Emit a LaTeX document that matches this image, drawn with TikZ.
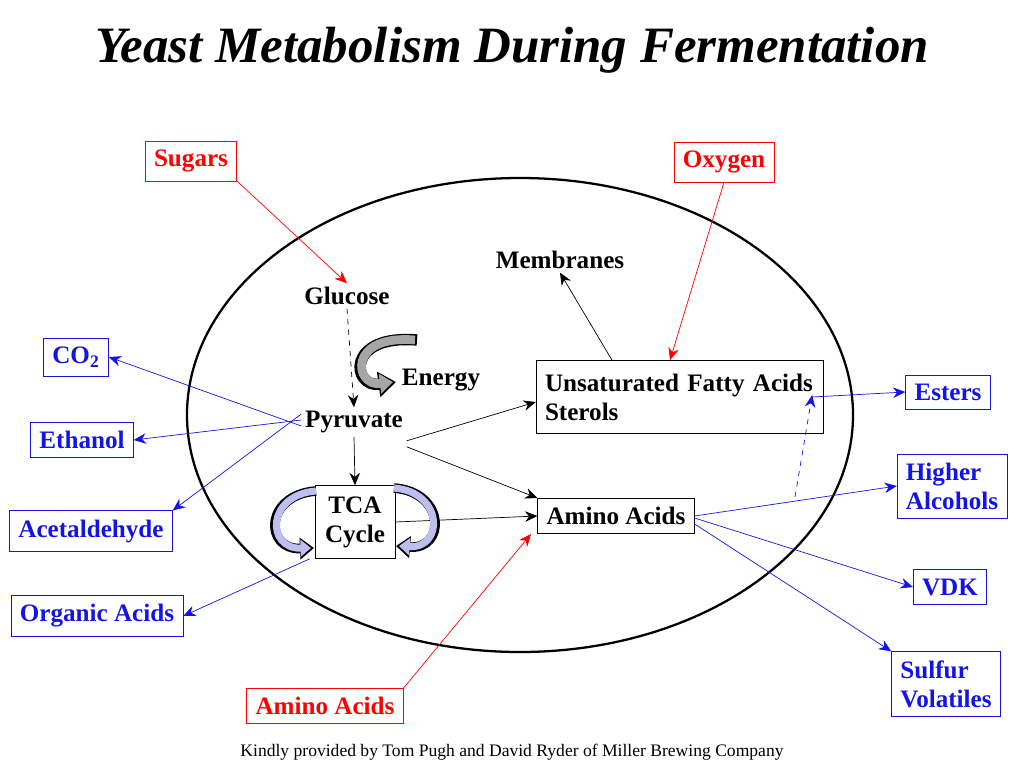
\documentclass[tikz,border=0pt]{standalone}
\usepackage{fontspec}
\setmainfont{Liberation Serif}
\usetikzlibrary{arrows.meta}
\usetikzlibrary{positioning}
\definecolor{inblue}{RGB}{20,20,230}
\definecolor{lav}{RGB}{190,190,240}

\tikzset{
  lbl/.style={font=\fontsize{14.3}{16.5}\selectfont\bfseries, inner sep=2pt},
  box/.style={lbl, draw, thin, inner xsep=5pt, inner ysep=5pt, align=left},
  inbox/.style={box, draw=red, text=red},
  outbox/.style={box, draw=inblue, text=inblue},
  arr/.style={-{Stealth[length=7pt,width=6pt]}, thin},
  redarr/.style={arr, red},
  bluearr/.style={arr, inblue},
}

\begin{document}
\begin{tikzpicture}[x=0.02cm, y=-0.02cm]
\useasboundingbox (0,0) rectangle (1024,768);

\node[font=\fontsize{29}{32}\selectfont\bfseries\itshape] (title) at (512,50) {Yeast Metabolism During Fermentation};

\draw[line width=1.3pt] (520,415) ellipse [x radius=333, y radius=237];

% inputs
\node[inbox] (sugars) at (191,161) {Sugars};
\node[inbox] (oxygen) at (724,162) {Oxygen};
\node[inbox] (aain) at (325,706) {Amino Acids};

% inside the cell
\node[lbl] (membr) at (560,260) {Membranes};
\node[lbl] (glucose) at (347,296) {Glucose};
\node[lbl] (energy) at (441,380) {Energy};
\node[lbl] (pyruvate) at (354,422) {Pyruvate};
\node[box, text width=270*0.02cm, minimum height=73*0.02cm] (ufa) at (680,397) {Unsaturated Fatty Acids\\Sterols};
\node[box, align=center, minimum width=80*0.02cm, minimum height=73*0.02cm] (tca) at (355,522) {TCA\\Cycle};
\node[box] (aa) at (616,516) {Amino Acids};

% outputs
\node[outbox] (co2) at (76,357) {CO$_\mathbf{2}$};
\node[outbox] (ethanol) at (82,440) {Ethanol};
\node[outbox] (acet) at (91,531) {Acetaldehyde};
\node[outbox] (orgac) at (97,616) {Organic Acids};
\node[outbox] (esters) at (948,392) {Esters};
\node[outbox] (higher) at (952,486) {Higher\\Alcohols};
\node[outbox] (vdk) at (950,587) {VDK};
\node[outbox] (sulfur) at (946,684) {Sulfur\\Volatiles};

\node[font=\fontsize{10}{12}\selectfont] (credit) at (512,752) {Kindly provided by Tom Pugh and David Ryder of Miller Brewing Company};

% red inputs
\draw[redarr] (sugars.south east) -- (glucose.north);
\draw[redarr] (oxygen.south) -- ([xshift=-10*0.02cm]ufa.north);
\draw[redarr] (aain.north east) -- ([xshift=-85*0.02cm]aa.south);

% pathway
\draw[arr, dashed] (glucose.south) -- (pyruvate.north);
\draw[arr] (pyruvate.south) -- (tca.north);
\draw[arr] ([yshift=-4*0.02cm]pyruvate.south east) -- ([yshift=-5*0.02cm]ufa.west);
\draw[arr] ([yshift=-10*0.02cm]pyruvate.south east) -- (aa.north west);
\draw[arr] (tca.east) -- (aa.west);
\draw[arr] ([xshift=-68*0.02cm]ufa.north) -- (membr.south);

% energy and TCA curved arrows
\draw[line width=6.5pt, black, -{Triangle[length=10pt,width=14pt]}] (417,340) .. controls (345,334) and (352,388) .. (396,382);
\draw[line width=5pt, gray!70, -{Triangle[length=7.5pt,width=11pt]}] (415,340) .. controls (347,334) and (354,387) .. (393,382);
\draw[line width=5.5pt, black, -{Triangle[length=8pt,width=12pt]}] (316,491) .. controls (264,495) and (264,550) .. (314,548);
\draw[line width=4pt, lav, -{Triangle[length=6pt,width=9.5pt]}] (316,491) .. controls (266,495) and (266,549) .. (311,548);
\draw[line width=5.5pt, black, -{Triangle[length=8pt,width=12pt]}] (394,488) .. controls (446,492) and (446,550) .. (396,546);
\draw[line width=4pt, lav, -{Triangle[length=6pt,width=9.5pt]}] (394,488) .. controls (444,492) and (444,549) .. (399,546);

% blue outputs
\draw[bluearr] ([yshift=-4*0.02cm]pyruvate.west) -- (co2.east);
\draw[bluearr] ([yshift=2*0.02cm]pyruvate.west) -- (ethanol.east);
\draw[bluearr] ([yshift=8*0.02cm]pyruvate.west) -- (acet.north east);
\draw[bluearr] ([xshift=-5*0.02cm]tca.south west) -- (orgac.east);
\draw[bluearr] ([xshift=-12*0.02cm]ufa.east) -- (esters.west);
\draw[bluearr] (aa.east) -- (higher.west);
\draw[bluearr] ([yshift=-2*0.02cm]aa.east) -- (vdk.west);
\draw[bluearr] ([yshift=-8*0.02cm]aa.east) -- (sulfur.north west);
\draw[bluearr, dashed] (795,497) -- ([xshift=-12*0.02cm,yshift=2*0.02cm]ufa.east);

\end{tikzpicture}
\end{document}
